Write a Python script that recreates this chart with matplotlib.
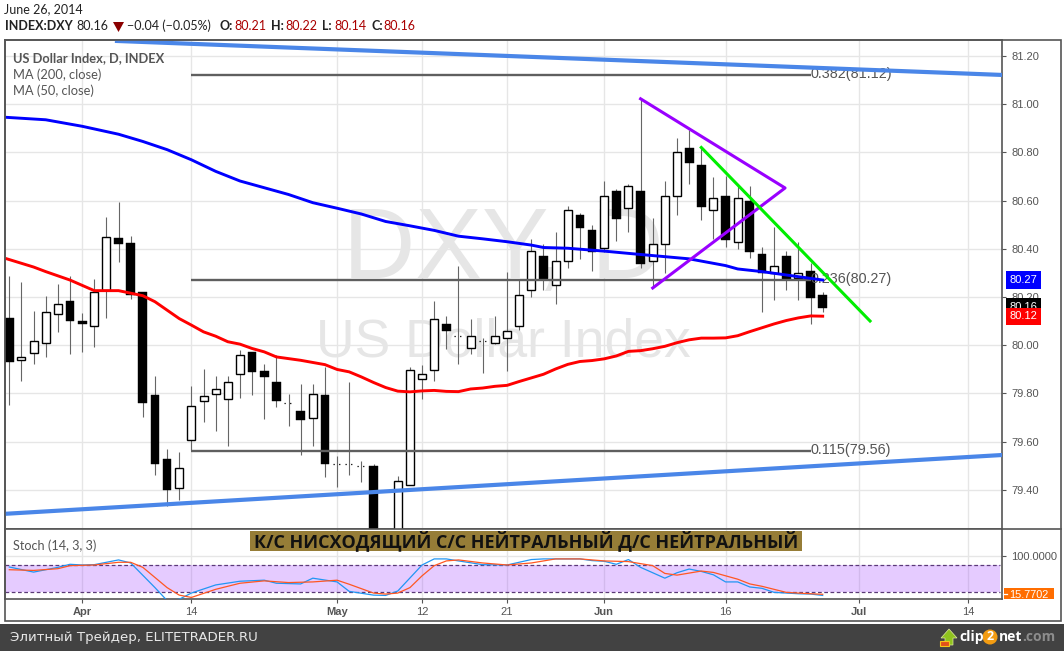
import matplotlib
matplotlib.use("Agg")
import matplotlib.pyplot as plt
from matplotlib.patches import Rectangle, Polygon, Circle
from matplotlib.transforms import Bbox

# candles, index 0 = first bar on the chart
opens = [80.111, 79.939, 79.968, 80.008, 80.13, 80.181, 80.102, 80.08, 80.229, 80.443,
         80.422, 80.222, 79.791, 79.529, 79.407, 79.607, 79.769, 79.798, 79.777, 79.881,
         79.97, 79.891, 79.847, 79.76, 79.727, 79.698, 79.791, 79.505, 79.505, 79.497,
         79.498, 79.15, 79.15, 79.42, 79.86, 79.897, 80.088, 80.039, 79.989, 80.016,
         80.009, 80.03, 80.08, 80.228, 80.37, 80.248, 80.348, 80.54, 80.478, 80.405,
         80.64, 80.568, 80.64, 80.348, 80.419, 80.618, 80.819, 80.748, 80.56, 80.618,
         80.427, 80.599, 80.378, 80.298, 80.37, 80.279, 80.308, 80.208]
closes = [79.929, 79.949, 80.018, 80.139, 80.172, 80.10, 80.087, 80.222, 80.45, 80.42,
          80.209, 79.759, 79.506, 79.398, 79.49, 79.748, 79.79, 79.819, 79.848, 79.96,
          79.888, 79.867, 79.767, 79.76, 79.688, 79.798, 79.505, 79.505, 79.505, 79.497,
          79.16, 79.1, 79.436, 79.897, 79.881, 80.109, 80.058, 80.039, 80.037, 80.016,
          80.037, 80.058, 80.209, 80.392, 80.275, 80.348, 80.56, 80.486, 80.385, 80.618,
          80.525, 80.66, 80.338, 80.419, 80.618, 80.80, 80.757, 80.575, 80.61, 80.438,
          80.61, 80.388, 80.298, 80.327, 80.275, 80.298, 80.196, 80.154]
highs = [80.288, 80.26, 80.14, 80.202, 80.252, 80.288, 80.132, 80.273, 80.53, 80.593,
         80.452, 80.222, 79.87, 79.571, 79.558, 79.832, 79.899, 79.87, 79.87, 79.981,
         79.97, 79.92, 79.961, 79.799, 79.84, 79.84, 79.91, 79.54, 79.847, 79.519,
         79.507, 79.2, 79.457, 79.911, 79.919, 80.181, 80.119, 80.33, 80.11, 80.03,
         80.119, 80.302, 80.27, 80.44, 80.42, 80.468, 80.576, 80.547, 80.499, 80.682,
         80.648, 80.669, 81.025, 80.527, 80.68, 80.859, 80.891, 80.822, 80.697, 80.70,
         80.66, 80.66, 80.406, 80.489, 80.39, 80.427, 80.341, 80.219]
lows = [79.751, 79.85, 79.921, 79.95, 80.054, 79.963, 79.971, 79.992, 80.112, 80.345,
        80.191, 79.701, 79.46, 79.331, 79.359, 79.564, 79.68, 79.643, 79.58, 79.78,
        79.792, 79.693, 79.744, 79.663, 79.543, 79.58, 79.451, 79.41, 79.46, 79.43,
        79.1, 79.0, 79.1, 79.42, 79.778, 79.85, 79.983, 79.921, 79.962, 79.883,
        80.005, 79.892, 80.062, 80.20, 80.229, 80.172, 80.322, 80.359, 80.309, 80.385,
        80.43, 80.471, 80.322, 80.24, 80.30, 80.54, 80.669, 80.521, 80.441, 80.409,
        80.399, 80.36, 80.139, 80.189, 80.23, 80.189, 80.089, 80.139]

ma200_idx = [-0.2, 3, 6, 9, 11, 13, 15, 17, 19, 21, 23, 25, 27, 29, 31, 33, 35, 37, 39, 41, 43,
             44, 46, 49, 52, 54, 56, 59, 60, 62, 64, 67]
ma200 = [80.945, 80.935, 80.908, 80.875, 80.845, 80.811, 80.769, 80.721, 80.681, 80.653, 80.625,
         80.591, 80.568, 80.544, 80.513, 80.495, 80.476, 80.452, 80.441, 80.429, 80.415,
         80.405, 80.402, 80.39, 80.376, 80.367, 80.358, 80.33, 80.316, 80.305, 80.291, 80.27]
ma50_idx = [-0.2, 2, 3, 5, 7, 9, 11, 12, 13, 14, 15, 16, 17, 18, 19, 20, 21, 22, 23, 24, 25, 26, 27, 28, 29, 30,
            31, 32, 33, 34, 35, 36, 37, 38, 39, 40, 41, 42, 43, 44, 45, 46, 47, 48, 49, 50, 51, 52, 53, 54,
            55, 56, 57, 58, 59, 60, 61, 62, 63, 64, 65, 66, 67]
ma50 = [80.358, 80.324, 80.305, 80.27, 80.226, 80.226, 80.205, 80.18, 80.145, 80.11, 80.083, 80.055, 80.037,
        80.014, 80.004, 79.986, 79.972, 79.951, 79.944, 79.937, 79.928, 79.919, 79.899, 79.889, 79.868, 79.845,
        79.824, 79.809, 79.806, 79.81, 79.812, 79.808, 79.807, 79.818, 79.822, 79.829, 79.833, 79.849, 79.864,
        79.879, 79.901, 79.92, 79.932, 79.936, 79.943, 79.955, 79.974, 79.977, 79.985, 79.995,
        80.01, 80.022, 80.029, 80.029, 80.03, 80.039, 80.056, 80.072, 80.088, 80.102, 80.113, 80.121, 80.12]

stoch_k_idx = [0, 2, 4, 5, 6, 7, 9, 10, 12, 13, 14, 15, 17, 19, 21, 22, 24, 25, 27, 28, 30, 31, 32, 34, 35,
               36, 37, 39, 41, 43, 44, 45, 47, 48, 49, 50, 51, 52, 53, 54, 55, 56, 57, 58, 59, 60, 61, 62,
               63, 64, 65, 66, 67]
stoch_k = [75.6, 64.4, 74.8, 81.5, 80, 80.7, 91.1, 84.4, 30.4, 2, 5, 18.5, 36.3, 44.4, 46.7, 40, 38.5, 51.1,
           42.9, 22.2, 14, 13.3, 23, 80, 93.3, 93.3, 88.9, 80.7, 80, 91.9, 93.3, 93.3, 93.3, 89.6, 88.1,
           81.5, 91.9, 74.8, 63, 51.1, 63, 71.1, 65.9, 58.5, 42.9, 42.9, 31.8, 28.9, 20, 18.5, 17, 16.3, 13.3]
stoch_d_idx = [0, 2, 4, 5, 7, 9, 10, 11, 12, 13, 14, 15, 17, 19, 21, 23, 25, 27, 28, 30, 31, 32, 33, 34, 35,
               36, 37, 39, 41, 43, 45, 47, 49, 51, 53, 54, 55, 57, 58, 60, 61, 62, 64, 66, 67]
stoch_d = [69.6, 68.1, 71.9, 78.5, 80, 85.9, 85.9, 74.8, 52.6, 30.4, 14, 8.9, 26.7, 40, 45.2, 41.5, 42.9, 46.7,
           37.8, 18.5, 16.3, 18.5, 30.4, 56.3, 78.5, 88.9, 91.1, 84.4, 80, 84.4, 93.3, 93.3, 88.9, 87.4,
           78.5, 61.5, 57.8, 66.7, 63.7, 48.9, 38.5, 33.3, 20, 17, 15.77]

price_ticks = [81.2, 81.0, 80.8, 80.6, 80.4, 80.2, 80.0, 79.8, 79.6, 79.4]
date_idx = [6, 15, 27, 34, 41, 49, 59, 70, 79]
date_labels = ["Apr", "14", "May", "12", "21", "Jun", "16", "Jul", "14"]
month_labels = ["Apr", "May", "Jun", "Jul"]

fib_levels = [81.12, 80.27, 79.56]
fib_names = ["0.382(81.12)", "0.236(80.27)", "0.115(79.56)"]
fib_span = [15, 66]
channel_top = ([8.87, 81.77], [81.262, 81.121])
channel_bottom = ([-0.35, 81.77], [79.30, 79.544])
triangle = ([52, 63.9, 53], [81.022, 80.652, 80.237])
green_line = ([57, 70.9], [80.82, 80.10])
last_close = 80.16

W, H = 1064, 651
fig = plt.figure(figsize=(W / 100, H / 100), dpi=100, facecolor="white")
plt.rcParams["font.family"] = ["Liberation Sans", "DejaVu Sans"]

def axes_rect(x0, y0, x1, y1):
    return [x0 / W, 1 - y1 / H, (x1 - x0) / W, (y1 - y0) / H]

ax = fig.add_axes(axes_rect(5, 40, 1002, 529))
st = fig.add_axes(axes_rect(5, 529, 1002, 599), sharex=ax)
gray = "#555555"

for a in (ax, st):
    a.set_xlim(-0.354, 81.77)
    a.grid(True, color="#e6e6e6", lw=1.0)
    a.set_axisbelow(True)
    a.yaxis.tick_right()
    for s in a.spines.values():
        s.set_color(gray)
        s.set_linewidth(1.2)
    a.tick_params(colors=gray, length=3, width=0.8, labelsize=8)
    a.set_xticks(date_idx)

ax.set_ylim(79.237, 81.266)
ax.set_yticks(price_ticks)
ax.set_yticklabels(["%.2f" % p for p in price_ticks])
ax.tick_params(axis="x", length=0, labelbottom=False)

# watermark
ax.text(40.7, 80.387, "DXY, D", ha="center", va="center", fontsize=72, color="#e6e6e6", zorder=1)
ax.text(40.7, 80.012, "US Dollar Index", ha="center", va="center", fontsize=38.5, color="#e6e6e6", zorder=1)

# candles
for i in range(len(opens)):
    ax.plot([i, i], [lows[i], highs[i]], color="#666666", lw=0.8, zorder=3, solid_capstyle="butt")
    top, bot = max(opens[i], closes[i]), min(opens[i], closes[i])
    if opens[i] == closes[i]:
        ax.plot([i - 0.35, i + 0.35], [top, top], color="black", lw=0.9, ls=(0, (1, 3.5)), zorder=4)
    elif closes[i] > opens[i]:
        ax.bar(i, top - bot, 0.66, bot, facecolor="white", edgecolor="black", linewidth=1.0, zorder=4)
    else:
        ax.bar(i, top - bot, 0.72, bot, facecolor="black", edgecolor="black", linewidth=0.3, zorder=4)

# fib levels
for lev, name in zip(fib_levels, fib_names):
    ax.plot(fib_span, [lev, lev], color="#5f5f5f", lw=1.7, zorder=5, solid_capstyle="butt")
    ax.text(fib_span[1], lev + 0.006, name, color=gray, fontsize=10.4, va="center", ha="left", zorder=5)

ax.plot(ma200_idx, ma200, color="#0000ff", lw=2.1, zorder=6)
ax.plot(ma50_idx, ma50, color="#ff0000", lw=2.1, zorder=6)
ax.plot(*channel_top, color="#4a86e8", lw=3.0, zorder=7)
ax.plot(*channel_bottom, color="#4a86e8", lw=3.0, zorder=7)
ax.plot(*triangle, color="#9900ff", lw=2.2, zorder=7)
ax.plot(*green_line, color="#00ee00", lw=2.2, zorder=7)

# price labels on the right
ytrans = ax.get_yaxis_transform()
for val, col in [(ma200[-1], "#0000ff"), (last_close, "black"), (ma50[-1], "#ff0000")]:
    ax.text(1.0075, val, "%.2f" % val, transform=ytrans, color="white", fontsize=8, va="center", ha="left",
            clip_on=False, zorder=9,
            bbox=dict(boxstyle="square,pad=0.32", fc=col, ec="none"))

# stochastic panel
st.set_ylim(5.5, 158.8)
st.set_yticks([100])
st.set_yticklabels(["100.0000"])
st.set_xticklabels(date_labels)
for lab in st.get_xticklabels():
    if lab.get_text() in month_labels:
        lab.set_fontweight("bold")
st.tick_params(axis="x", pad=2.5)
st.axhspan(20, 80, xmax=0.998, color="#9933ff", alpha=0.25, lw=0, zorder=1)
for lev in (20, 80):
    st.axhline(lev, xmax=0.998, color="#5b3a78", lw=0.9, ls=(0, (3, 2)), zorder=2)
st.plot(stoch_k_idx, stoch_k, color="#2196f3", lw=0.9, zorder=3)
st.plot(stoch_d_idx, stoch_d, color="#ff5722", lw=0.9, zorder=4)
lab = st.text(1.007, stoch_d[-1] - 1.5, "%.4f" % 15.7702, transform=st.get_yaxis_transform(), color="white", fontsize=7.8,
              va="center", ha="left", zorder=9,
              bbox=dict(boxstyle="square,pad=0.5", fc="#ff6d00", ec="none"))
lab.set_clip_box(Bbox([[1000, H - 599], [1060, H - 588]]))
lab.set_clip_on(True)
st.plot([1.001, 1.005], [stoch_d[-1], stoch_d[-1]], transform=st.get_yaxis_transform(), color="white", lw=0.9,
        clip_on=False, zorder=10)

# pixel overlay for frame, header, footer
ov = fig.add_axes([0, 0, 1, 1], facecolor="none")
ov.set_xlim(0, W)
ov.set_ylim(H, 0)
ov.axis("off")

ov.add_patch(Rectangle((4.5, 40), 1056.5, 580.5, fc="none", ec=gray, lw=1.2))
ov.plot([1002, 1061], [528.8, 528.8], color=gray, lw=1.2)
ov.add_patch(Rectangle((0, 624), W, 27, fc="#424242", ec="none"))

ov.text(4, 9, "June 26, 2014", family="Lato", fontsize=9.0, va="center", color="#222222")
hdr = [(5, "INDEX:DXY", "#222222", "bold"), (76, "80.16", "#222222", "normal"),
       (127, "\u22120.04 (\u22120.05%)", "#222222", "normal"),
       (220, "O:", "#222222", "bold"), (234, "80.21", "#aa0000", "normal"),
       (271, "H:", "#222222", "bold"), (285, "80.22", "#aa0000", "normal"),
       (322, "L:", "#222222", "bold"), (334, "80.14", "#aa0000", "normal"),
       (371, "C:", "#222222", "bold"), (383, "80.16", "#aa0000", "normal")]
for x, s, c, w in hdr:
    ov.text(x, 26, s, family="Lato", fontsize=9.0, va="center", color=c, fontweight=w)
ov.add_patch(Polygon([[113, 22], [124, 22], [118.5, 32]], fc="#8b0000", ec="none"))

ov.text(13, 58, "US Dollar Index, D, INDEX", family="Lato", fontsize=9.3, va="center", color=gray, fontweight="bold")
ov.text(13, 75, "MA (200, close)", family="Lato", fontsize=9.3, va="center", color=gray)
ov.text(13, 91, "MA (50, close)", family="Lato", fontsize=9.3, va="center", color=gray)
ov.text(13, 546, "Stoch (14, 3, 3)", family="Lato", fontsize=9.1, va="center", color=gray)

ov.add_patch(Rectangle((250, 531), 552, 20, fc="#967d37", ec="none"))
ov.text(526, 541, "К/С НИСХОДЯЩИЙ С/С НЕЙТРАЛЬНЫЙ Д/С НЕЙТРАЛЬНЫЙ", family="Open Sans", fontweight="bold",
        fontsize=13, ha="center", va="center", color="#111111")

ov.text(10, 638, "Элитный Трейдер, ELITETRADER.RU", family="DejaVu Sans", fontsize=9.6, va="center", color="#e8e8e8")

# clip2net logo
ov.add_patch(Polygon([[949, 629], [957, 638], [953, 638], [953, 645], [945, 645], [945, 638], [941, 638]],
                     fc="#8fc31f", ec="#dfe8a0", lw=0.5))
ov.add_patch(Rectangle((940, 641), 9, 5, fc="#e0501a", ec="#f5c518", lw=0.8))
ov.text(959, 637, "clip", family="Open Sans", fontweight="bold", fontsize=10, color="white", va="center")
ov.add_patch(Circle((990, 637), 7.5, fc="#f39c12", ec="none"))
ov.text(990, 637, "2", family="Open Sans", fontweight="bold", fontsize=9, color="white", va="center", ha="center")
ov.text(998.5, 637, "net", family="Open Sans", fontweight="bold", fontsize=10, color="white", va="center")
ov.text(1022.5, 637, ".com", family="Open Sans", fontweight="bold", fontsize=10, color="#8c8c8c", va="center")

fig.savefig("out.png", dpi=100)
